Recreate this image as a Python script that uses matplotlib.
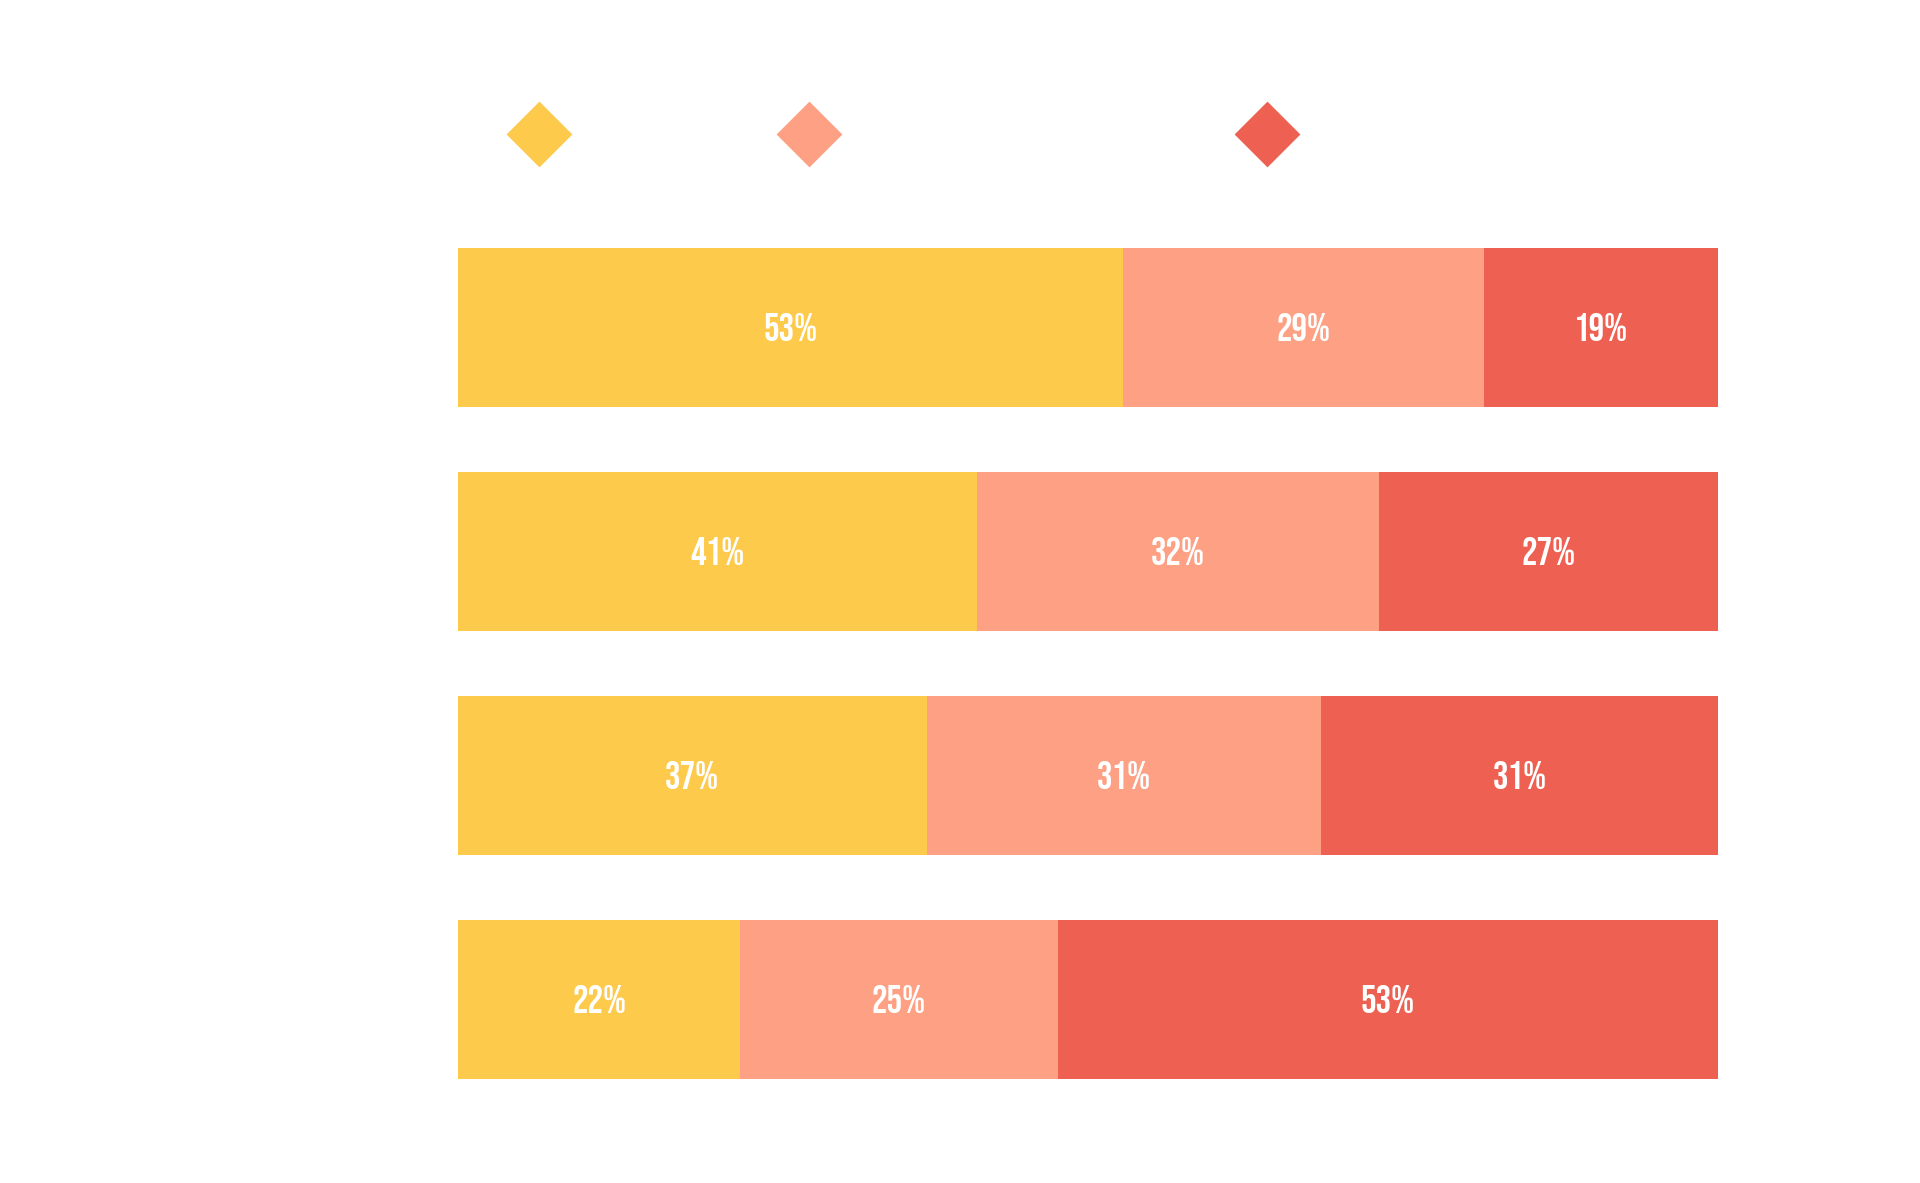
import numpy as np
import matplotlib
matplotlib.use("Agg")
import matplotlib.pyplot as plt

# data (rows top to bottom)
rows = ["A", "B", "C", "D"]
# segment widths in % of the bar
share1 = [52.8, 41.2, 37.2, 22.4]
share2 = [28.6, 31.9, 31.3, 25.2]
share3 = [18.6, 26.9, 31.5, 52.4]
# numbers printed on the segments
label1 = [53, 41, 37, 22]
label2 = [29, 32, 31, 25]
label3 = [19, 27, 31, 53]

colors = ["#FECA4C", "#FDA083", "#EE6152"]
legend_x = [0.064, 0.279, 0.642]  # diamond positions in axes coords

fig = plt.figure(figsize=(19.2, 11.83), dpi=100)
ax = fig.add_axes([0.2385, 0.0605, 0.6563, 0.7574])

shares = np.array([share1, share2, share3])
labels = [label1, label2, label3]
y = np.arange(len(rows))

left = np.zeros(len(rows))
for i in range(3):
    ax.barh(y, shares[i], left=left, height=0.71, color=colors[i], linewidth=0)
    for j in range(len(rows)):
        ax.text(left[j] + shares[i][j] / 2, y[j], "%d%%" % labels[i][j],
                ha="center", va="center", color="white", fontsize=28,
                family=["Bebas Neue", "DejaVu Sans"])
    left += shares[i]

# legend diamonds (legend text is white on white in the original)
for i in range(3):
    ax.scatter([legend_x[i]], [1.0904], marker="D", s=33.5**2, color=colors[i],
               transform=ax.transAxes, clip_on=False, linewidths=0)

ax.set_xlim(0, left.max())
ax.set_ylim(len(rows) - 0.5, -0.5)
ax.set_xticks([])
ax.set_yticks([])
for s in ax.spines.values():
    s.set_visible(False)

fig.savefig("out.png", dpi=100, facecolor="white")
